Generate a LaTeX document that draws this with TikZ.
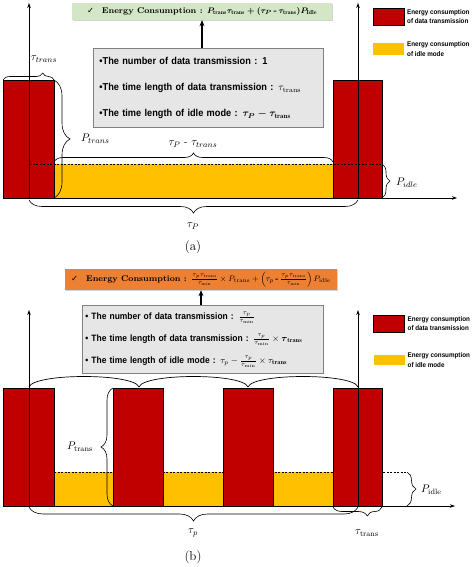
\documentclass[tikz,border=0pt]{standalone}
\usepackage{amsmath,amssymb}
\usepackage{fontspec}
\usepackage{tikz}
\usetikzlibrary{arrows.meta, positioning, decorations.pathreplacing, shadows}

\newfontfamily\narrowfont[FakeStretch=0.92]{Liberation Sans}
\newfontfamily\symfont{DejaVu Sans}

\definecolor{transred}{HTML}{C00000}
\definecolor{idleyellow}{HTML}{FFC000}
\definecolor{infogrey}{HTML}{E6E6E6}
\definecolor{infoline}{HTML}{808080}
\definecolor{eqgreen}{HTML}{D3E6C5}
\definecolor{eqorange}{HTML}{EE8033}

\tikzset{
  transbar/.style={draw=black, fill=transred, line width=0.7pt, inner sep=0pt, outer sep=0pt,
    anchor=south west, minimum height=118pt},
  idlebar/.style={fill=idleyellow, inner sep=0pt, outer sep=0pt, anchor=south west,
    minimum width=279pt, minimum height=34pt},
  axis/.style={line width=0.7pt, -{Stealth[length=5pt, width=3.5pt]}},
  idleline/.style={line width=0.5pt, dash pattern=on 2pt off 1.5pt},
  period/.style={line width=0.7pt},
  brc/.style={decorate, line width=0.6pt, decoration={brace, amplitude=#1}},
  brcm/.style={decorate, line width=0.6pt, decoration={brace, mirror, amplitude=#1}},
  lbl/.style={font=\fontsize{11}{13}\selectfont, inner sep=1pt},
  infobox/.style 2 args={draw=infoline, fill=infogrey, line width=0.9pt, align=left, anchor=north west,
    font=\narrowfont\bfseries\fontsize{#1}{#2}\selectfont},
  eqbox/.style={inner xsep=4pt, inner ysep=0pt, font=\bfseries\fontsize{8.3}{10}\selectfont,
    drop shadow={shadow xshift=1.2pt, shadow yshift=-1.2pt, opacity=0.35}},
  upflow/.style={-{Stealth[length=6pt, width=5pt]}, line width=1.6pt},
  legkey/.style={minimum width=31pt, inner sep=0pt, outer sep=0pt},
  legtext/.style={align=left, inner sep=0pt, font=\narrowfont\bfseries\fontsize{6.8}{9.5}\selectfont},
  caption/.style={font=\fontsize{13}{15}\selectfont}
}

\begin{document}
\begin{tikzpicture}[x=1pt, y=-1pt]
\useasboundingbox (0,0) rectangle (474,567);

% ---------- (a) single transmission per period
\node[idlebar] (idleA) at (54,198) {};
\node[transbar, minimum width=51pt] (trA1) at (3,198) {};
\node[transbar, minimum width=49pt] (trA2) at (333,198) {};
\coordinate (oA) at (29,198);
\coordinate (yA) at (29,3);
\coordinate (pA) at (358,198);
\coordinate (ypA) at (358,3);
\coordinate (xA0) at (3,198);
\coordinate (xA) at (457,198);
\coordinate (dA0) at (29,164);
\coordinate (dA) at (382,164);
\draw[idleline] (dA0) -- (dA);
\draw[axis] (oA) -- (yA);
\draw[axis] (pA) -- (ypA);
\draw[axis] (xA0) -- (xA);

\draw[brc=7pt, decoration={aspect=0.78}] (trA1.north west) -- (trA1.north east);
\node[lbl] (ttA) at (44,59) {$\tau_{trans}$};
\draw[brc=16pt] (trA1.north east) -- (trA1.south east);
\node[lbl, anchor=west] (ptA) at (80,139) {$P_{trans}$};
\draw[brc=9pt, decoration={raise=2pt}] (idleA.north west) -- (idleA.north east);
\node[lbl] (gapA) at (193,144) {$\tau_P$ - $\tau_{trans}$};
\draw[brc=8pt] (dA) -- (trA2.south east);
\node[lbl, anchor=west] (piA) at (395,183) {$P_{idle}$};
\draw[brcm=13pt, decoration={raise=2pt}] (oA) -- (pA);
\node[lbl] (tpA) at (193,226) {$\tau_P$};
\node[caption] (capA) at (193,247) {(a)};

\node[infobox={10}{26}, text width=218pt, inner xsep=6pt, minimum height=79pt] (infoA) at (93,48)
  {\textbullet The number of data transmission : 1\\
   \textbullet The time length of data transmission : $\tau_{\mathrm{trans}}$\\
   \textbullet The time length of idle mode : {\boldmath$\tau_P-\tau_{\mathrm{trans}}$}};
\node[eqbox, fill=eqgreen, minimum width=260pt, minimum height=17pt] (eqA) at (202,11.5)
  {{\symfont ✓}\hspace{8pt}Energy Consumption : {\boldmath$P_{\mathrm{trans}}\tau_{\mathrm{trans}}+(\tau_P\,\text{-}\,\tau_{\mathrm{trans}})P_{\mathrm{Idle}}$}};
\draw[upflow] (eqA.south |- infoA.north) -- (eqA.south);

\node[legkey, draw=black, line width=0.9pt, fill=transred, minimum height=17pt] (keyTA) at (388.5,16.5) {};
\node[legtext, right=3pt of keyTA] (txtTA) {Energy consumption\\of data transmission};
\node[legkey, fill=idleyellow, minimum height=12pt] (keyIA) at (388.5,49) {};
\node[legtext, right=3pt of keyIA] (txtIA) {Energy consumption\\of idle mode};

% ---------- (b) several transmissions per period
\node[idlebar] (idleB) at (54,506) {};
\coordinate (dB0) at (54,472);
\coordinate (dB) at (407,472);
\coordinate (bB) at (407,506);
\draw[idleline] (dB0) -- (dB);
\node[transbar, minimum width=51pt] (trB1) at (3,506) {};
\node[transbar, minimum width=50pt] (trB2) at (113,506) {};
\node[transbar, minimum width=50pt] (trB3) at (223,506) {};
\node[transbar, minimum width=49pt] (trB4) at (333,506) {};
\coordinate (oB) at (29,506);
\coordinate (yB) at (29,310);
\coordinate (pB) at (358,506);
\coordinate (ypB) at (358,310);
\coordinate (xB0) at (3,506);
\coordinate (xB) at (455,506);
\draw[axis] (oB) -- (yB);
\draw[axis] (pB) -- (ypB);
\draw[axis] (xB0) -- (xB);

\coordinate (cB0) at (29,387);
\coordinate (cB1) at (139,387);
\coordinate (cB2) at (248,387);
\coordinate (cB3) at (358,387);
\foreach \s/\e in {cB0/cB1, cB1/cB2, cB2/cB3}
  \draw[period] (\s) .. controls +(5,-14) and +(-5,-14) .. (\e);

\draw[brc=12pt] (trB2.south west) -- (trB2.north west);
\node[lbl, anchor=east] (ptB) at (94,447) {$P_{\mathrm{trans}}$};
\draw[brc=9pt] (dB) -- (bB);
\node[lbl, anchor=west] (piB) at (420,490) {$P_{\mathrm{idle}}$};
\draw[brcm=14pt, decoration={raise=1pt}] (oB) -- (pB);
\node[lbl] (tpB) at (193,533) {$\tau_p$};
\draw[brcm=9pt, decoration={aspect=0.7, raise=1pt}] (trB4.south west) -- (trB4.south east);
\node[lbl] (ttB) at (367,533) {$\tau_{\mathrm{trans}}$};
\node[caption] (capB) at (193,557) {(b)};

\node[infobox={9.2}{22}, text width=235pt, inner xsep=3pt, minimum height=68pt] (infoB) at (82,305)
  {\textbullet{} The number of data transmission : $\frac{\tau_p}{\tau_{\min}}$\\
   \textbullet{} The time length of data transmission : $\frac{\tau_p}{\tau_{\min}}\times\boldsymbol{\tau}_{\mathbf{trans}}$\\
   \textbullet{} The time length of idle mode : $\tau_p-\frac{\tau_p}{\tau_{\min}}\times\tau_{\mathbf{trans}}$};
\node[eqbox, fill=eqorange, minimum width=272pt, minimum height=21pt] (eqB) at (201,279.5)
  {{\symfont ✓}\hspace{8pt}Energy Consumption : $\frac{\tau_p\tau_{\mathrm{trans}}}{\tau_{\mathrm{min}}}\times P_{\mathrm{trans}}+\left(\tau_p\,\text{-}\,\frac{\tau_p\tau_{\mathrm{trans}}}{\tau_{\mathrm{min}}}\right)P_{\mathrm{idle}}$};
\draw[upflow] (eqB.south |- infoB.north) -- (eqB.south);

\node[legkey, draw=black, line width=0.9pt, fill=transred, minimum height=17pt] (keyTB) at (389,323.5) {};
\node[legtext, right=3pt of keyTB] (txtTB) {Energy consumption\\of data transmission};
\node[legkey, fill=idleyellow, minimum height=10pt] (keyIB) at (389,360) {};
\node[legtext, right=3pt of keyIB] (txtIB) {Energy consumption\\of idle mode};
\end{tikzpicture}
\end{document}
